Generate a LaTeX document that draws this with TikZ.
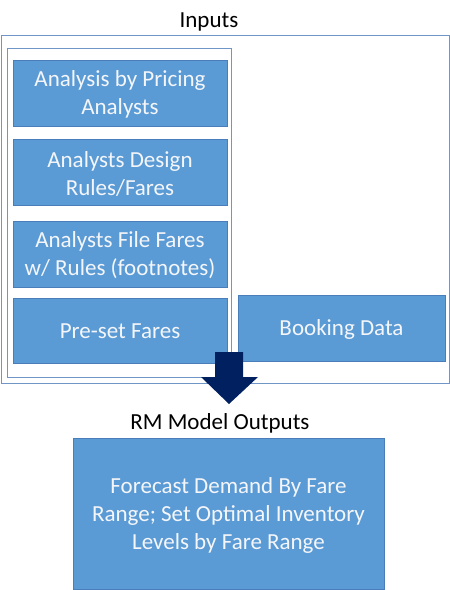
\documentclass[tikz,border=0pt]{standalone}
\usepackage{fontspec}
\setmainfont{Carlito}
\definecolor{boxfill}{HTML}{5B9BD5}
\definecolor{boxline}{HTML}{4A7EBB}
\definecolor{frameline}{HTML}{7096C8}
\definecolor{navy}{HTML}{002060}
\definecolor{txtwhite}{HTML}{F4F6FA}
\begin{document}
\begin{tikzpicture}[x=1pt,y=-1pt,
  bluebox/.style={draw=boxline,line width=0.8pt,fill=boxfill},
  boxtext/.style={text=txtwhite,align=center,font=\fontsize{23}{28}\selectfont},
  framebox/.style={draw=frameline,line width=1pt},
  title/.style={font=\fontsize{23}{28}\selectfont,text=black}]
\useasboundingbox (0,0) rectangle (450,590);
% outer frame
\draw[framebox] (1,35) rectangle (449,383);
% inner frame
\draw[framebox] (7,48) rectangle (231,377);
\node[title] (inputs) at (209,22) {Inputs};
\path[bluebox] (13,60) rectangle (227,126);
\node[boxtext] (b1) at (120,94) {Analysis by Pricing\\Analysts};
\path[bluebox] (13,139) rectangle (227,205);
\node[boxtext] (b2) at (120,173.5) {Analysts Design\\Rules/Fares};
\path[bluebox] (13,221) rectangle (227,287);
\node[boxtext] (b3) at (120,255) {Analysts File Fares\\w/ Rules (footnotes)};
\path[bluebox] (13,298) rectangle (227,363);
\node[boxtext] (b4) at (120,331) {Pre-set Fares};
\path[bluebox] (238,295) rectangle (445,361);
\node[boxtext] (bd) at (341.5,329) {Booking Data};
% arrow
\fill[navy] (215,352) -- (243,352) -- (243,377) -- (258,377) -- (229,404) -- (201,377) -- (215,377) -- cycle;
\node[title] (rm) at (220,423) {RM Model Outputs};
\path[bluebox] (73,438) rectangle (384,589);
\node[boxtext] (out) at (228.5,515.5) {Forecast Demand By Fare\\Range; Set Optimal Inventory\\Levels by Fare Range};
\end{tikzpicture}
\end{document}
